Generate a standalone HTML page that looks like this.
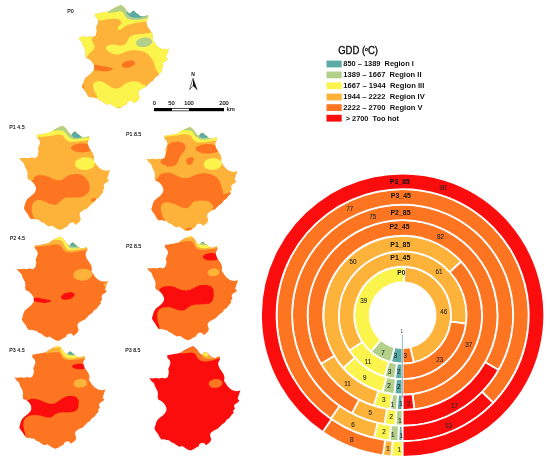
<!DOCTYPE html><html><head><meta charset="utf-8"><title>GDD</title><style>html,body{margin:0;padding:0;background:#fff}svg{display:block}text{font-family:"Liberation Sans", sans-serif}</style></head><body>
<svg width="550" height="463" viewBox="0 0 550 463">
<defs><path id="ol" d="M0.0 31.9 L2.8 32.4 L6.4 31.9 L10.0 32.4 L12.8 31.5 L15.5 32.4 L18.2 31.0 L19.1 28.2 L19.5 25.5 L18.8 22.8 L20.0 20.0 L21.0 17.3 L20.6 14.6 L19.1 12.8 L17.7 11.0 L18.2 8.8 L21.0 8.6 L24.6 7.9 L28.2 7.3 L31.9 6.4 L34.6 4.2 L37.3 2.8 L41.0 1.0 L43.7 0.0 L45.7 1.5 L47.5 3.3 L49.8 6.9 L52.1 8.9 L53.5 7.8 L54.4 6.5 L56.2 5.8 L57.4 6.9 L58.9 8.3 L60.3 9.2 L62.1 10.8 L64.4 11.7 L66.6 11.7 L68.5 10.8 L69.8 10.4 L70.5 11.9 L70.4 13.7 L69.1 15.5 L68.8 18.2 L70.0 21.9 L71.9 24.6 L73.7 27.3 L74.6 29.1 L75.1 31.9 L74.6 34.6 L76.4 37.3 L78.2 40.0 L81.0 42.8 L83.7 44.2 L87.3 45.0 L91.0 44.2 L90.0 47.1 L89.1 49.9 L88.2 52.6 L90.0 54.8 L88.2 56.2 L85.5 58.0 L84.6 59.9 L85.5 62.6 L83.7 64.4 L84.2 66.8 L81.9 69.0 L80.0 71.7 L77.3 73.5 L75.5 76.2 L72.8 78.0 L70.0 80.8 L68.2 82.6 L64.6 84.2 L61.9 86.0 L60.6 87.9 L61.0 90.6 L61.9 93.3 L60.6 96.0 L58.2 97.9 L56.4 99.1 L55.1 97.0 L52.8 96.6 L50.0 97.9 L49.1 100.2 L46.4 101.5 L43.7 103.3 L41.0 104.2 L38.2 103.3 L35.5 101.5 L32.8 99.7 L30.0 100.6 L27.3 99.1 L24.6 97.0 L21.9 96.0 L20.0 94.2 L17.3 93.7 L14.6 93.0 L11.9 93.3 L10.0 90.6 L8.6 87.9 L6.4 85.1 L5.0 82.4 L6.0 79.0 L6.8 76.2 L8.2 73.5 L11.0 71.1 L13.7 69.0 L15.5 67.1 L17.0 64.4 L17.0 61.7 L15.9 59.0 L13.7 56.2 L11.9 54.8 L9.1 53.5 L8.2 50.8 L8.6 48.0 L8.2 45.3 L6.8 42.6 L5.5 39.9 L4.6 37.1 L1.9 34.8Z"/></defs>
<rect width="550" height="463" fill="#fff"/>
<g>
<clipPath id="cp0"><use href="#ol" transform="scale(1.0100 0.9910)"/></clipPath>
<g transform="translate(77.0 5.0)">
<use href="#ol" transform="scale(1.0100 0.9910)" fill="#fdb23a"/>
<g clip-path="url(#cp0)">
<path d="M12.9 2.6 C19.7 -1.8 22.2 2.6 33.3 0.1 C44.3 -2.5 31.6 -6.7 46.0 -5.0 C60.4 -3.3 66.4 -1.8 76.5 5.2 C86.7 12.2 78.7 12.3 76.5 16.0 C74.4 19.7 74.0 16.1 70.2 16.4 C66.4 16.7 68.9 16.4 65.1 16.9 C61.3 17.4 62.5 17.1 58.7 17.9 C54.9 18.7 57.0 18.1 53.6 19.2 C50.2 20.2 51.3 19.6 48.5 21.1 C45.8 22.6 47.3 22.4 45.4 23.6 C43.5 24.9 44.3 24.9 42.8 24.9 C41.3 24.9 41.3 24.7 40.9 23.6 C40.5 22.6 40.5 23.4 41.5 21.7 C42.6 20.0 43.5 20.5 44.1 18.5 C44.7 16.6 44.9 17.5 43.5 16.0 C42.0 14.5 42.6 14.7 39.6 14.1 C36.7 13.5 38.4 13.9 34.5 14.1 C30.7 14.3 32.0 14.3 28.2 14.7 C24.4 15.2 26.1 15.6 23.1 15.4 C20.1 15.2 22.7 14.7 19.3 14.1 C15.9 13.5 15.0 17.3 12.9 13.5 C10.8 9.6 6.1 7.1 12.9 2.6Z" fill="#fbf44c"/>
<path d="M31.4 3.9 C33.3 1.4 32.8 2.6 37.1 0.1 C41.3 -2.5 39.4 -4.2 44.1 -3.7 C48.8 -3.3 40.3 -2.0 51.1 1.4 C61.9 4.8 68.1 2.7 76.5 6.5 C85.0 10.2 78.5 10.4 76.5 12.6 C74.6 14.7 73.8 12.3 70.8 12.8 C67.8 13.3 70.4 13.5 67.6 14.1 C64.9 14.7 66.4 14.5 62.5 14.7 C58.7 14.9 59.8 14.9 56.2 14.7 C52.6 14.5 54.3 15.2 51.7 14.1 C49.2 13.0 50.2 13.5 48.5 11.5 C46.8 9.6 48.3 10.1 46.6 8.4 C44.9 6.7 46.2 6.9 43.5 6.5 C40.7 6.0 41.8 6.7 38.4 7.1 C35.0 7.5 35.6 7.5 33.3 7.7 C30.9 7.9 32.0 9.0 31.4 7.7 C30.7 6.5 29.5 6.5 31.4 3.9Z" fill="#b3d08a"/>
<path d="M49.6 7.2 C49.4 5.7 49.6 7.6 51.3 5.7 C53.1 3.7 46.5 1.1 54.9 1.4 C63.3 1.6 71.4 3.4 76.5 6.5 C81.7 9.5 73.2 8.8 70.4 10.5 C67.7 12.2 70.1 11.0 68.3 11.5 C66.5 12.1 67.8 11.8 65.1 12.2 C62.3 12.6 63.4 12.8 60.0 12.8 C56.6 12.8 57.7 13.0 54.9 12.2 C52.2 11.3 53.5 11.9 51.7 10.3 C49.9 8.6 49.7 8.7 49.6 7.2Z" fill="#5aaaa6"/>
<path d="M-5.6 27.3 C0.3 19.8 5.4 28.5 12.2 31.3 C19.0 34.0 13.2 32.8 14.7 35.5 C16.2 38.1 15.9 36.7 16.7 39.1 C17.6 41.5 17.8 40.5 17.3 42.7 C16.8 45.0 17.2 43.7 15.3 45.8 C13.4 47.9 13.8 47.1 11.6 49.1 C9.5 51.1 14.7 50.3 8.9 51.8 C3.2 53.3 -0.8 61.8 -5.6 53.6 C-10.5 45.5 -11.6 34.7 -5.6 27.3Z" fill="#fbf44c"/>
<path d="M28.9 43.1 C28.9 41.1 29.2 41.5 31.6 40.4 C34.1 39.2 32.8 39.6 36.2 39.6 C39.5 39.6 38.3 40.2 41.6 40.4 C45.0 40.5 43.5 41.0 46.2 40.0 C48.9 39.0 48.0 39.4 49.8 37.3 C51.6 35.2 50.1 35.8 51.6 33.6 C53.2 31.5 51.9 32.3 54.4 30.9 C56.8 29.5 55.6 30.1 58.9 29.5 C62.2 28.8 60.4 29.5 64.4 29.1 C68.3 28.7 66.2 28.8 70.7 28.2 C75.3 27.6 67.1 28.2 78.0 27.3 C88.9 26.4 95.0 8.5 103.5 25.5 C111.9 42.4 109.5 62.7 103.5 78.2 C97.4 93.6 92.4 75.0 85.3 71.8 C78.1 68.7 83.8 70.8 82.0 68.7 C80.2 66.6 81.2 67.8 79.8 65.5 C78.5 63.2 78.9 64.2 78.0 61.8 C77.1 59.4 78.0 60.6 77.1 58.2 C76.2 55.8 76.8 57.0 75.3 54.5 C73.8 52.1 74.4 53.0 72.5 50.9 C70.7 48.8 72.2 49.7 69.8 48.2 C67.4 46.7 68.6 47.3 65.3 46.4 C61.9 45.5 63.5 45.8 59.8 45.5 C56.2 45.2 57.7 45.2 54.4 45.5 C51.0 45.8 52.8 45.5 49.8 46.4 C46.8 47.3 48.3 47.2 45.3 48.2 C42.2 49.2 43.8 49.3 40.7 49.5 C37.7 49.6 39.2 49.8 36.2 48.7 C33.2 47.7 34.1 48.2 31.6 46.4 C29.2 44.5 28.9 45.1 28.9 43.1Z" fill="#fbf44c"/>
<path d="M75.2 36.1 C75.3 36.7 75.1 37.4 74.8 38.0 C74.5 38.6 74.0 39.3 73.3 39.8 C72.6 40.3 71.7 40.8 70.8 41.2 C69.9 41.5 68.8 41.8 67.7 42.0 C66.7 42.1 65.6 42.1 64.6 42.0 C63.6 41.9 62.6 41.7 61.8 41.4 C61.0 41.1 60.3 40.6 59.9 40.1 C59.4 39.6 59.1 39.0 59.0 38.4 C58.9 37.8 59.0 37.1 59.4 36.5 C59.7 35.9 60.2 35.3 60.9 34.8 C61.6 34.2 62.5 33.7 63.4 33.4 C64.3 33.0 65.4 32.7 66.4 32.6 C67.5 32.4 68.6 32.4 69.6 32.5 C70.6 32.6 71.6 32.8 72.4 33.2 C73.1 33.5 73.9 33.9 74.3 34.4 C74.8 34.9 75.1 35.5 75.2 36.1Z" fill="#b3d08a"/>
<path d="M15.8 62.2 C15.9 60.5 15.8 60.6 18.0 60.0 C20.2 59.4 19.2 59.9 22.5 60.4 C25.9 60.8 24.4 60.7 28.0 61.5 C31.6 62.2 31.0 61.8 33.5 62.7 C35.9 63.6 35.6 63.2 35.3 64.2 C35.0 65.2 35.3 65.1 32.5 65.8 C29.8 66.5 30.7 66.4 27.1 66.4 C23.5 66.4 24.8 66.3 21.6 65.8 C18.5 65.3 19.6 66.1 17.6 64.9 C15.7 63.7 15.7 63.8 15.8 62.2Z" fill="#fd7421"/>
<path d="M58.0 57.5 C58.1 57.9 58.0 58.4 57.8 58.9 C57.6 59.3 57.2 59.9 56.7 60.3 C56.1 60.8 55.5 61.2 54.7 61.6 C54.0 61.9 53.1 62.2 52.3 62.4 C51.5 62.7 50.5 62.8 49.7 62.8 C48.9 62.8 48.1 62.8 47.4 62.6 C46.8 62.5 46.2 62.2 45.7 61.9 C45.3 61.6 45.0 61.1 44.9 60.7 C44.8 60.3 44.9 59.8 45.1 59.3 C45.3 58.8 45.7 58.3 46.2 57.9 C46.8 57.4 47.5 57.0 48.2 56.6 C48.9 56.3 49.8 55.9 50.6 55.7 C51.5 55.5 52.4 55.4 53.2 55.4 C54.0 55.3 54.8 55.4 55.5 55.6 C56.1 55.7 56.7 56.0 57.2 56.3 C57.6 56.6 57.9 57.0 58.0 57.5Z" fill="#fd7421"/>
<path d="M16.2 80.0 C16.4 77.3 16.2 78.5 18.0 77.3 C19.8 76.1 18.9 76.4 21.6 76.4 C24.4 76.4 23.2 76.1 26.2 77.3 C29.2 78.5 27.7 78.2 30.7 80.0 C33.8 81.8 32.2 81.5 35.3 82.7 C38.3 83.9 36.8 83.9 39.8 83.6 C42.8 83.3 41.6 83.3 44.4 81.8 C47.1 80.3 45.3 80.7 48.0 79.1 C50.7 77.5 49.2 77.8 52.5 76.9 C55.9 76.0 54.7 76.2 58.0 76.4 C61.3 76.5 60.0 76.1 62.5 77.3 C65.1 78.5 63.5 77.9 65.6 80.0 C67.8 82.1 66.0 73.0 68.9 83.6 C71.8 94.2 91.9 102.4 74.4 111.8 C56.8 121.2 33.5 116.5 16.2 111.8 C-1.1 107.1 20.8 103.4 22.5 97.6 C24.2 91.9 22.3 97.1 21.3 94.5 C20.2 92.0 20.8 93.0 19.5 90.0 C18.1 87.0 18.4 88.8 17.3 85.5 C16.2 82.1 15.9 82.7 16.2 80.0Z" fill="#fbf44c"/>
<path d="M6.5 82.4 C6.5 82.8 6.5 83.2 6.5 83.6 C6.4 84.0 6.3 84.4 6.2 84.7 C6.1 85.0 6.0 85.2 5.9 85.4 C5.7 85.5 5.6 85.6 5.5 85.6 C5.3 85.6 5.2 85.5 5.0 85.4 C4.9 85.2 4.8 85.0 4.7 84.7 C4.6 84.4 4.5 84.0 4.4 83.6 C4.4 83.2 4.4 82.8 4.4 82.4 C4.4 81.9 4.4 81.5 4.4 81.1 C4.5 80.7 4.6 80.3 4.7 80.0 C4.8 79.8 4.9 79.5 5.0 79.3 C5.2 79.2 5.3 79.1 5.5 79.1 C5.6 79.1 5.7 79.2 5.9 79.3 C6.0 79.5 6.1 79.8 6.2 80.0 C6.3 80.3 6.4 80.7 6.5 81.1 C6.5 81.5 6.5 81.9 6.5 82.4Z" fill="#fd7421"/>
<path d="M47.4 102.9 C47.5 103.1 47.3 103.2 47.1 103.4 C47.0 103.6 46.6 103.8 46.2 103.9 C45.9 104.0 45.4 104.2 44.9 104.3 C44.4 104.4 43.8 104.5 43.2 104.5 C42.6 104.6 42.0 104.6 41.5 104.6 C41.0 104.6 40.5 104.5 40.1 104.4 C39.7 104.4 39.3 104.2 39.1 104.1 C38.9 104.0 38.8 103.8 38.7 103.7 C38.7 103.5 38.8 103.3 39.0 103.1 C39.2 103.0 39.6 102.8 39.9 102.6 C40.3 102.5 40.8 102.4 41.3 102.2 C41.8 102.1 42.4 102.1 43.0 102.0 C43.5 102.0 44.1 101.9 44.7 102.0 C45.2 102.0 45.7 102.0 46.1 102.1 C46.5 102.2 46.8 102.3 47.1 102.4 C47.3 102.6 47.4 102.7 47.4 102.9Z" fill="#fdb23a"/>
</g></g>
<rect x="70.0" y="30.0" width="9.1" height="16.0" fill="#fff"/>
<text x="67.2" y="12.5" font-size="5.3" fill="#111" stroke="#111" stroke-width="0.12">P0</text>
<clipPath id="cp1"><use href="#ol" transform="scale(1.0000 1.0000)"/></clipPath>
<g transform="translate(19.0 125.8)">
<use href="#ol" transform="scale(1.0000 1.0000)" fill="#fdb23a"/>
<g clip-path="url(#cp1)">
<path d="M15.0 -8.0 L80.0 -8.0 L80.0 13.6 L74.0 13.6 C72.2 13.9 72.5 13.8 68.5 14.4 C64.5 15.0 66.4 14.8 62.1 15.3 C57.8 15.8 59.3 15.8 55.7 16.0 C52.1 16.2 53.8 16.4 51.2 16.0 C48.6 15.6 49.8 15.9 48.0 14.7 C46.2 13.5 47.2 14.1 45.7 12.4 C44.2 10.7 45.6 10.9 43.5 9.7 C41.4 8.5 42.6 8.9 39.4 8.9 C36.2 8.9 37.5 9.2 33.9 9.7 C30.3 10.2 32.1 10.0 28.5 10.4 C24.9 10.8 27.5 10.6 23.0 11.0 C18.5 11.4 17.7 11.4 15.0 11.6Z" fill="#fbf44c"/>
<path d="M32.3 -8.0 L80.0 -8.0 L80.0 11.2 L74.0 11.2 C72.2 11.4 72.5 11.4 68.5 11.9 C64.5 12.4 66.1 12.3 62.1 12.8 C58.1 13.3 59.6 13.5 56.6 13.5 C53.6 13.5 55.1 13.6 53.0 12.9 C50.9 12.2 51.9 12.6 50.3 11.4 C48.7 10.2 49.5 10.9 48.2 9.4 C46.9 7.9 47.7 8.5 46.3 7.0 C44.9 5.5 45.9 5.9 43.9 5.0 C41.9 4.1 42.7 4.5 40.3 4.4 C37.9 4.3 39.0 4.3 36.6 4.8 C34.2 5.3 34.4 4.9 33.0 5.8 C31.6 6.7 32.5 7.0 32.3 7.6Z" fill="#b3d08a"/>
<path d="M53.0 9.2 C52.9 8.3 53.5 6.9 54.0 6.0 C54.5 5.1 55.5 3.8 56.2 4.0 C56.9 4.2 57.7 6.6 58.4 7.4 C59.1 8.2 59.8 8.4 60.5 9.0 C61.2 9.6 62.6 10.3 62.6 10.8 C62.6 11.3 61.6 11.7 60.7 11.9 C59.9 12.1 58.5 12.3 57.5 12.2 C56.5 12.1 55.1 12.0 54.4 11.5 C53.6 11.0 53.1 10.1 53.0 9.2Z" fill="#5aaaa6"/>
<path d="M74.4 22.1 C74.4 22.7 74.1 23.3 73.5 23.8 C73.0 24.4 72.1 24.9 71.1 25.3 C70.1 25.7 68.8 26.0 67.5 26.3 C66.2 26.5 64.6 26.6 63.2 26.6 C61.8 26.6 60.2 26.5 58.9 26.3 C57.6 26.0 56.3 25.7 55.3 25.3 C54.3 24.9 53.4 24.4 52.9 23.8 C52.3 23.3 52.0 22.7 52.0 22.1 C52.0 21.5 52.3 20.9 52.9 20.4 C53.4 19.8 54.3 19.3 55.3 18.9 C56.3 18.5 57.6 18.2 58.9 17.9 C60.2 17.7 61.8 17.6 63.2 17.6 C64.6 17.6 66.2 17.7 67.5 17.9 C68.8 18.2 70.1 18.5 71.1 18.9 C72.1 19.3 73.0 19.8 73.5 20.4 C74.1 20.9 74.4 21.5 74.4 22.1Z" fill="#fd7421"/>
<path d="M76.2 37.3 C76.2 38.1 76.0 39.0 75.5 39.8 C75.1 40.6 74.3 41.3 73.4 42.0 C72.5 42.6 71.4 43.1 70.2 43.5 C69.0 43.9 67.6 44.1 66.3 44.2 C65.0 44.3 63.6 44.2 62.4 43.9 C61.2 43.7 60.0 43.2 59.0 42.7 C58.1 42.2 57.3 41.5 56.7 40.8 C56.2 40.0 55.9 39.2 55.8 38.4 C55.8 37.6 56.0 36.7 56.5 35.9 C56.9 35.1 57.7 34.3 58.6 33.7 C59.5 33.1 60.6 32.5 61.8 32.2 C63.0 31.8 64.4 31.5 65.7 31.5 C67.0 31.4 68.4 31.5 69.6 31.8 C70.8 32.0 72.0 32.4 73.0 33.0 C73.9 33.5 74.7 34.2 75.3 34.9 C75.8 35.6 76.1 36.5 76.2 37.3Z" fill="#fbf44c"/>
<path d="M13.3 54.4 C16.3 52.9 13.3 52.4 16.0 50.7 C18.7 49.1 17.2 49.5 21.5 49.5 C25.7 49.5 24.2 49.4 28.7 50.7 C33.3 52.1 31.2 52.3 35.1 53.5 C39.0 54.7 37.2 54.7 40.5 54.4 C43.9 54.1 42.1 54.1 45.1 52.6 C48.1 51.0 46.3 51.2 49.6 49.8 C53.0 48.4 51.2 48.7 55.1 48.4 C59.0 48.1 57.8 47.8 61.5 48.9 C65.1 50.0 63.6 49.5 66.0 51.7 C68.4 53.8 67.2 52.6 68.7 55.3 C70.2 58.0 70.1 56.8 70.5 59.8 C71.0 62.9 71.1 61.7 70.2 64.4 C69.3 67.1 69.8 65.9 67.8 68.0 C65.8 70.1 67.5 69.5 64.2 70.7 C60.8 72.0 62.4 71.4 57.8 71.7 C53.3 72.0 54.8 71.4 50.5 71.7 C46.3 72.0 48.1 71.4 45.1 72.6 C42.1 73.8 43.6 73.5 41.5 75.3 C39.3 77.1 40.8 76.8 38.7 78.0 C36.6 79.2 38.1 79.1 35.1 78.9 C32.1 78.7 33.3 78.7 29.6 77.5 C26.0 76.3 27.8 76.3 24.2 75.3 C20.5 74.3 21.8 74.1 18.7 74.4 C15.7 74.7 16.9 74.4 15.1 76.2 C13.3 78.0 14.1 77.1 13.3 79.8 C12.5 82.6 12.5 81.0 12.7 84.4 C12.9 87.7 13.2 86.5 13.8 89.8 C14.5 93.2 17.0 91.4 14.7 94.4 C12.4 97.4 12.5 102.9 6.9 98.9 C1.3 95.0 -0.4 94.1 -2.2 82.6 C-4.0 71.0 -1.6 73.5 1.5 64.4 C4.5 55.3 3.0 58.6 6.9 55.3 C10.8 52.0 10.2 55.9 13.3 54.4Z" fill="#fd7421"/>
<path d="M76.9 73.0 C77.0 73.1 77.0 73.4 76.9 73.6 C76.9 73.8 76.8 74.0 76.6 74.2 C76.4 74.4 76.2 74.6 75.9 74.8 C75.7 74.9 75.3 75.1 75.0 75.2 C74.7 75.3 74.4 75.4 74.1 75.4 C73.8 75.5 73.5 75.5 73.2 75.4 C72.9 75.4 72.7 75.3 72.5 75.2 C72.4 75.0 72.2 74.9 72.2 74.7 C72.1 74.5 72.1 74.3 72.1 74.1 C72.2 73.9 72.3 73.7 72.5 73.5 C72.7 73.3 72.9 73.1 73.2 72.9 C73.4 72.7 73.7 72.6 74.0 72.5 C74.4 72.4 74.7 72.3 75.0 72.2 C75.3 72.2 75.6 72.2 75.9 72.3 C76.1 72.3 76.4 72.4 76.6 72.5 C76.7 72.6 76.9 72.8 76.9 73.0Z" fill="#fd7421"/>
</g></g>
<text x="9.3" y="129.0" font-size="5.3" fill="#111" stroke="#111" stroke-width="0.12">P1 4.5</text>
<clipPath id="cp2"><use href="#ol" transform="scale(1.0000 1.0000)"/></clipPath>
<g transform="translate(146.4 126.9)">
<use href="#ol" transform="scale(1.0000 1.0000)" fill="#fdb23a"/>
<g clip-path="url(#cp2)">
<path d="M15.0 -8.0 L80.0 -8.0 L80.0 13.0 L75.0 13.0 C73.3 13.2 73.8 13.1 70.0 13.6 C66.2 14.1 67.9 13.9 63.6 14.5 C59.3 15.1 61.1 15.1 57.2 15.4 C53.3 15.7 54.8 15.9 51.8 15.4 C48.8 14.9 50.1 15.2 48.1 13.8 C46.1 12.4 47.4 13.0 45.9 11.3 C44.4 9.6 45.7 9.9 43.6 8.6 C41.5 7.3 42.5 7.8 39.5 7.5 C36.5 7.2 38.0 7.4 34.5 7.8 C31.0 8.2 32.7 8.1 29.1 8.6 C25.5 9.1 28.3 8.8 23.6 9.3 C18.9 9.8 17.9 9.8 15.0 10.0Z" fill="#fbf44c"/>
<path d="M37.4 -8.0 L80.0 -8.0 L80.0 9.8 L75.0 9.8 C73.3 10.0 72.6 9.9 70.0 10.4 C67.4 10.9 69.9 10.6 67.2 11.3 C64.5 12.0 65.4 12.0 61.8 12.4 C58.2 12.8 59.3 12.8 56.3 12.6 C53.3 12.4 54.8 12.6 52.7 11.7 C50.6 10.8 51.6 11.2 50.0 9.9 C48.4 8.6 49.0 9.3 47.9 7.9 C46.8 6.5 47.6 6.9 46.6 5.6 C45.6 4.3 46.6 4.7 45.0 4.0 C43.4 3.3 44.0 3.8 41.8 3.6 C39.6 3.4 39.9 3.1 38.4 3.4 C36.9 3.7 37.7 4.1 37.4 4.4Z" fill="#b3d08a"/>
<path d="M52.7 8.6 C52.8 7.9 53.4 6.3 53.9 5.5 C54.4 4.7 55.2 3.4 55.9 3.6 C56.6 3.9 57.3 6.2 58.0 7.0 C58.7 7.8 59.6 7.9 60.2 8.4 C60.8 8.9 62.0 9.8 61.8 10.2 C61.6 10.6 60.2 10.9 59.1 11.0 C58.0 11.1 56.4 11.0 55.4 10.8 C54.4 10.6 53.8 10.3 53.4 9.9 C53.0 9.5 52.6 9.3 52.7 8.6Z" fill="#5aaaa6"/>
<path d="M23.6 16.7 C26.3 15.2 25.4 15.4 29.1 14.9 C32.7 14.4 31.5 14.4 34.5 15.3 C37.5 16.2 36.6 15.6 38.1 17.6 C39.7 19.6 39.4 18.9 39.1 21.3 C38.8 23.7 38.8 22.5 37.2 24.9 C35.7 27.3 36.0 26.1 34.5 28.6 C33.0 31.0 33.9 29.8 32.7 32.2 C31.5 34.6 32.4 33.7 30.9 35.8 C29.4 37.9 30.6 37.3 28.1 38.6 C25.7 39.8 26.6 39.5 23.6 39.5 C20.6 39.5 21.8 39.5 19.1 38.6 C16.3 37.6 16.9 38.3 15.4 36.7 C13.9 35.2 14.2 36.1 14.5 34.0 C14.8 31.9 14.8 32.8 16.3 30.4 C17.8 27.9 17.5 29.2 19.1 26.7 C20.6 24.3 20.3 25.5 20.9 23.1 C21.5 20.7 20.0 21.6 20.9 19.5 C21.8 17.3 20.9 18.3 23.6 16.7Z" fill="#fd7421"/>
<path d="M73.7 22.0 C73.7 22.6 73.4 23.3 72.8 23.8 C72.2 24.4 71.2 25.0 70.1 25.4 C69.0 25.8 67.6 26.2 66.2 26.4 C64.7 26.7 63.1 26.8 61.5 26.8 C59.9 26.8 58.3 26.7 56.8 26.4 C55.4 26.2 54.0 25.8 52.9 25.4 C51.8 25.0 50.8 24.4 50.2 23.8 C49.6 23.3 49.3 22.6 49.3 22.0 C49.3 21.4 49.6 20.7 50.2 20.2 C50.8 19.6 51.8 19.0 52.9 18.6 C54.0 18.2 55.4 17.8 56.8 17.6 C58.3 17.3 59.9 17.2 61.5 17.2 C63.1 17.2 64.7 17.3 66.2 17.6 C67.6 17.8 69.0 18.2 70.1 18.6 C71.2 19.0 72.2 19.6 72.8 20.2 C73.4 20.7 73.7 21.4 73.7 22.0Z" fill="#fd7421"/>
<path d="M40.0 34.9 C39.8 32.9 39.7 33.2 41.2 31.6 C42.8 30.1 42.5 30.5 44.5 30.4 C46.5 30.3 46.5 29.9 47.2 31.3 C48.0 32.7 47.4 32.6 46.7 34.6 C46.0 36.6 46.7 36.3 45.1 37.3 C43.4 38.3 43.5 38.4 41.8 37.6 C40.1 36.9 40.1 36.9 40.0 34.9Z" fill="#fd7421"/>
<path d="M75.4 36.6 C75.4 37.4 75.2 38.2 74.8 38.9 C74.4 39.6 73.8 40.3 73.0 40.9 C72.2 41.4 71.1 41.9 70.1 42.3 C69.0 42.6 67.8 42.8 66.6 42.9 C65.5 43.0 64.2 42.9 63.1 42.7 C62.0 42.4 61.0 42.0 60.1 41.5 C59.3 41.1 58.5 40.4 58.1 39.8 C57.6 39.1 57.3 38.3 57.2 37.6 C57.2 36.8 57.4 36.0 57.8 35.3 C58.2 34.6 58.9 33.9 59.7 33.3 C60.5 32.8 61.5 32.3 62.6 31.9 C63.6 31.6 64.9 31.4 66.0 31.3 C67.2 31.2 68.4 31.3 69.5 31.5 C70.6 31.8 71.7 32.2 72.5 32.7 C73.4 33.1 74.1 33.8 74.6 34.4 C75.1 35.1 75.4 35.9 75.4 36.6Z" fill="#fbf44c"/>
<path d="M10.0 52.4 C14.8 48.4 10.6 49.9 13.6 47.8 C16.6 45.7 15.1 46.4 19.1 46.0 C23.0 45.6 21.5 45.5 25.4 46.6 C29.4 47.6 27.2 47.6 30.9 49.1 C34.5 50.6 32.4 50.4 36.3 50.9 C40.3 51.4 38.8 51.4 42.7 50.6 C46.6 49.7 44.2 49.7 48.1 48.4 C52.1 47.0 50.3 47.2 54.5 46.6 C58.8 45.9 56.6 45.8 60.9 46.6 C65.1 47.3 63.6 46.8 67.2 48.7 C70.9 50.7 69.4 49.3 71.8 52.4 C74.2 55.4 73.0 54.2 74.5 57.8 C76.0 61.5 75.1 60.3 76.3 63.3 C77.5 66.3 74.2 66.3 78.1 66.9 C82.1 67.5 84.8 62.7 88.1 65.1 C91.5 67.5 94.2 68.4 88.1 74.2 C82.1 79.9 77.2 80.9 70.0 82.4 C62.7 83.9 68.8 81.2 66.3 78.7 C63.9 76.3 65.7 76.7 62.7 75.1 C59.7 73.5 60.9 74.3 57.2 73.8 C53.6 73.4 55.1 73.4 51.8 73.8 C48.4 74.3 49.7 73.8 47.2 75.1 C44.8 76.4 46.3 76.0 44.5 77.8 C42.7 79.6 43.9 79.5 41.8 80.6 C39.7 81.6 40.9 81.4 38.1 81.1 C35.4 80.8 36.6 80.9 33.6 79.6 C30.6 78.4 32.1 78.7 29.1 77.5 C26.0 76.3 27.5 76.6 24.5 76.0 C21.5 75.4 22.7 75.3 20.0 75.6 C17.2 75.9 18.1 75.3 16.3 76.9 C14.5 78.6 14.9 77.8 14.5 80.6 C14.1 83.3 14.4 82.1 15.1 85.1 C15.7 88.1 15.6 86.0 16.3 89.6 C17.1 93.3 21.2 92.7 17.2 96.0 C13.3 99.3 11.8 104.5 4.5 99.6 C-2.8 94.8 -2.8 94.8 -4.6 81.5 C-6.4 68.1 -5.8 69.3 -0.9 59.6 C3.9 49.9 5.1 56.3 10.0 52.4Z" fill="#fd7421"/>
<path d="M46.7 101.8 C46.7 102.0 46.6 102.2 46.4 102.4 C46.2 102.5 45.9 102.7 45.6 102.8 C45.2 103.0 44.8 103.1 44.3 103.2 C43.9 103.3 43.3 103.4 42.8 103.5 C42.3 103.5 41.7 103.5 41.3 103.5 C40.8 103.5 40.3 103.4 40.0 103.3 C39.6 103.3 39.3 103.1 39.1 103.0 C38.8 102.9 38.7 102.7 38.7 102.5 C38.7 102.4 38.8 102.2 39.0 102.0 C39.1 101.9 39.4 101.7 39.8 101.5 C40.1 101.4 40.6 101.3 41.1 101.2 C41.5 101.0 42.1 101.0 42.6 100.9 C43.1 100.9 43.6 100.9 44.1 100.9 C44.6 100.9 45.1 101.0 45.4 101.0 C45.8 101.1 46.1 101.3 46.3 101.4 C46.5 101.5 46.7 101.7 46.7 101.8Z" fill="#fd7421"/>
</g></g>
<text x="126.0" y="135.6" font-size="5.3" fill="#111" stroke="#111" stroke-width="0.12">P1 8.5</text>
<clipPath id="cp3"><use href="#ol" transform="scale(1.0000 1.0000)"/></clipPath>
<g transform="translate(16.8 236.8)">
<use href="#ol" transform="scale(1.0000 1.0000)" fill="#fd7421"/>
<g clip-path="url(#cp3)">
<path d="M15.0 -8.0 L80.0 -8.0 L80.0 12.4 L75.0 12.4 C72.9 12.7 73.2 12.6 68.7 13.4 C64.2 14.2 66.0 13.9 61.4 14.7 C56.8 15.5 58.6 15.5 55.0 15.7 C51.4 15.9 53.1 16.0 50.5 15.4 C47.9 14.8 49.0 15.2 47.3 13.8 C45.6 12.4 47.0 12.9 45.5 11.1 C44.0 9.3 45.0 9.5 42.7 8.4 C40.4 7.3 41.6 7.7 38.7 7.7 C35.8 7.7 37.4 8.0 34.1 8.4 C30.8 8.8 32.3 8.6 28.7 9.0 C25.1 9.4 27.8 9.2 23.2 9.7 C18.6 10.2 17.7 10.2 15.0 10.4Z" fill="#fdb23a"/>
<path d="M35.6 -8.0 L80.0 -8.0 L80.0 10.2 L75.0 10.2 C72.6 10.6 72.2 10.6 67.7 11.4 C63.2 12.2 65.6 11.8 61.4 12.5 C57.2 13.2 58.3 13.3 55.0 13.4 C51.7 13.5 53.4 13.8 51.4 12.9 C49.4 12.0 50.6 12.5 49.1 10.7 C47.6 8.9 48.4 9.6 47.0 7.5 C45.6 5.4 46.9 5.7 45.0 4.3 C43.1 2.9 44.1 3.5 41.4 3.2 C38.7 2.9 38.7 2.8 36.8 3.4 C34.9 4.0 36.0 4.5 35.6 5.0Z" fill="#fbf44c"/>
<path d="M51.6 9.4 C51.5 8.0 52.3 4.1 53.4 3.0 C54.5 1.9 56.7 2.2 58.0 3.0 C59.3 3.8 60.2 6.7 61.0 8.0 C61.8 9.3 62.9 10.0 63.0 10.6 C63.1 11.2 62.3 11.2 61.4 11.4 C60.5 11.6 58.9 11.7 57.7 11.7 C56.5 11.7 55.1 12.0 54.1 11.6 C53.1 11.2 51.7 10.8 51.6 9.4Z" fill="#b3d08a"/>
<path d="M53.5 8.6 C53.3 7.6 53.8 4.8 54.4 4.0 C55.0 3.2 56.5 3.4 57.4 4.0 C58.3 4.6 59.0 6.7 59.6 7.6 C60.2 8.5 61.0 8.9 60.8 9.3 C60.6 9.7 59.4 9.8 58.5 9.9 C57.6 10.0 56.3 9.9 55.5 9.7 C54.7 9.5 53.7 9.5 53.5 8.6Z" fill="#5aaaa6"/>
<path d="M75.4 37.4 C75.4 38.2 75.2 39.0 74.8 39.8 C74.3 40.5 73.6 41.2 72.8 41.8 C72.0 42.4 70.9 42.9 69.8 43.3 C68.7 43.6 67.4 43.9 66.2 43.9 C65.0 44.0 63.7 43.9 62.6 43.7 C61.5 43.4 60.4 43.0 59.5 42.5 C58.6 42.0 57.8 41.4 57.3 40.7 C56.8 40.0 56.5 39.2 56.5 38.4 C56.4 37.7 56.7 36.8 57.1 36.1 C57.5 35.4 58.2 34.6 59.0 34.0 C59.9 33.5 60.9 32.9 62.0 32.6 C63.1 32.2 64.4 32.0 65.6 31.9 C66.8 31.9 68.1 32.0 69.3 32.2 C70.4 32.4 71.5 32.8 72.4 33.3 C73.3 33.8 74.0 34.5 74.5 35.2 C75.0 35.9 75.3 36.7 75.4 37.4Z" fill="#fdb23a"/>
<path d="M87.7 49.7 C85.9 47.0 87.1 47.6 89.6 45.2 C92.0 42.8 93.2 39.7 95.0 42.5 C96.8 45.2 97.4 51.0 95.0 53.4 C92.6 55.8 89.6 52.5 87.7 49.7Z" fill="#fdb23a"/>
<path d="M16.1 62.8 C16.1 61.5 16.6 61.4 19.6 61.0 C22.5 60.6 21.4 61.0 25.0 61.6 C28.7 62.2 27.4 61.9 30.5 62.8 C33.5 63.7 34.0 63.3 34.1 64.3 C34.2 65.3 33.9 65.2 30.8 65.7 C27.8 66.3 28.8 66.2 25.0 65.9 C21.3 65.7 22.5 66.0 19.6 65.0 C16.6 64.0 16.1 64.2 16.1 62.8Z" fill="#fb0d0d"/>
<path d="M57.7 57.4 C57.8 57.8 57.7 58.3 57.5 58.8 C57.3 59.3 56.9 59.8 56.4 60.3 C55.8 60.8 55.1 61.2 54.4 61.6 C53.7 62.0 52.8 62.3 51.9 62.5 C51.1 62.8 50.1 62.9 49.3 63.0 C48.5 63.0 47.6 63.0 46.9 62.8 C46.2 62.7 45.6 62.4 45.2 62.1 C44.8 61.8 44.5 61.4 44.3 61.0 C44.2 60.6 44.3 60.1 44.5 59.6 C44.7 59.1 45.1 58.6 45.7 58.1 C46.2 57.6 46.9 57.2 47.6 56.8 C48.4 56.4 49.3 56.1 50.1 55.9 C51.0 55.6 51.9 55.5 52.7 55.4 C53.6 55.4 54.4 55.4 55.1 55.6 C55.8 55.7 56.4 56.0 56.8 56.3 C57.3 56.6 57.6 57.0 57.7 57.4Z" fill="#fb0d0d"/>
</g></g>
<text x="9.7" y="239.8" font-size="5.3" fill="#111" stroke="#111" stroke-width="0.12">P2 4.5</text>
<clipPath id="cp4"><use href="#ol" transform="scale(1.0000 1.0000)"/></clipPath>
<g transform="translate(147.0 236.0)">
<use href="#ol" transform="scale(1.0000 1.0000)" fill="#fd7421"/>
<g clip-path="url(#cp4)">
<path d="M31.5 -8.0 L80.0 -8.0 L80.0 11.4 L75.0 11.4 C73.2 11.7 73.4 11.6 69.5 12.2 C65.6 12.8 67.4 12.7 63.2 13.3 C59.0 13.9 60.4 13.9 56.8 14.0 C53.2 14.1 54.9 14.3 52.3 13.5 C49.7 12.7 50.8 13.4 49.1 11.7 C47.4 10.0 48.7 10.5 47.3 8.5 C45.9 6.5 47.0 6.9 45.0 5.8 C43.0 4.7 44.1 5.2 41.4 5.1 C38.7 5.0 39.8 5.1 36.8 5.6 C33.8 6.1 34.1 5.7 32.3 6.7 C30.5 7.7 31.8 8.0 31.5 8.6Z" fill="#fdb23a"/>
<path d="M45.6 -0.2 C45.6 0.0 45.5 0.2 45.4 0.4 C45.3 0.6 45.1 0.7 44.8 0.9 C44.5 1.1 44.2 1.2 43.8 1.4 C43.5 1.5 43.0 1.6 42.6 1.7 C42.2 1.8 41.8 1.8 41.4 1.8 C41.0 1.8 40.6 1.8 40.3 1.7 C40.0 1.6 39.8 1.5 39.6 1.4 C39.4 1.3 39.3 1.1 39.2 1.0 C39.2 0.8 39.3 0.6 39.4 0.4 C39.5 0.2 39.7 0.1 40.0 -0.1 C40.3 -0.3 40.6 -0.4 41.0 -0.6 C41.3 -0.7 41.8 -0.8 42.2 -0.9 C42.6 -1.0 43.0 -1.0 43.4 -1.0 C43.8 -1.0 44.2 -1.0 44.5 -0.9 C44.8 -0.8 45.0 -0.7 45.2 -0.6 C45.4 -0.5 45.5 -0.3 45.6 -0.2Z" fill="#fbf44c"/>
<path d="M48.3 -8.0 L80.0 -8.0 L80.0 9.8 L75.0 9.8 C73.2 10.0 72.2 10.1 69.5 10.5 C66.8 10.9 69.5 10.7 66.8 11.1 C64.1 11.5 65.0 11.4 61.4 11.7 C57.8 12.0 58.9 12.1 55.9 12.0 C52.9 11.9 54.3 12.1 52.3 11.3 C50.3 10.5 51.1 10.9 50.0 9.5 C48.9 8.1 49.6 8.8 49.0 7.0 C48.4 5.2 48.5 5.0 48.3 4.0Z" fill="#fbf44c"/>
<path d="M52.3 8.0 C52.1 7.0 52.7 3.8 53.6 3.0 C54.5 2.2 56.4 2.3 57.5 3.0 C58.6 3.7 59.4 6.4 60.0 7.4 C60.6 8.4 61.3 8.7 61.0 9.0 C60.7 9.3 59.1 9.3 58.0 9.3 C56.9 9.3 55.5 9.2 54.5 9.0 C53.5 8.8 52.4 9.0 52.3 8.0Z" fill="#b3d08a"/>
<path d="M53.6 6.8 C53.5 6.2 54.1 4.0 54.6 3.6 C55.1 3.2 55.9 3.9 56.4 4.4 C56.9 4.9 57.5 6.1 57.4 6.6 C57.2 7.1 56.1 7.4 55.5 7.4 C54.9 7.4 53.8 7.4 53.6 6.8Z" fill="#5aaaa6"/>
<path d="M73.1 20.8 C73.1 21.3 72.9 21.8 72.4 22.2 C72.0 22.7 71.4 23.1 70.6 23.4 C69.8 23.8 68.8 24.0 67.8 24.2 C66.8 24.4 65.6 24.5 64.5 24.5 C63.4 24.5 62.2 24.4 61.2 24.2 C60.2 24.0 59.2 23.8 58.4 23.4 C57.6 23.1 57.0 22.7 56.6 22.2 C56.1 21.8 55.9 21.3 55.9 20.8 C55.9 20.3 56.1 19.8 56.6 19.4 C57.0 18.9 57.6 18.5 58.4 18.2 C59.2 17.8 60.2 17.6 61.2 17.4 C62.2 17.2 63.4 17.1 64.5 17.1 C65.6 17.1 66.8 17.2 67.8 17.4 C68.8 17.6 69.8 17.8 70.6 18.2 C71.4 18.5 72.0 18.9 72.4 19.4 C72.9 19.8 73.1 20.3 73.1 20.8Z" fill="#fb0d0d"/>
<path d="M72.6 35.8 C72.7 36.3 72.5 36.9 72.3 37.4 C72.0 37.9 71.6 38.4 71.1 38.8 C70.6 39.2 69.9 39.6 69.2 39.8 C68.6 40.1 67.7 40.3 67.0 40.3 C66.2 40.4 65.4 40.4 64.7 40.2 C63.9 40.1 63.2 39.9 62.7 39.6 C62.1 39.2 61.6 38.8 61.2 38.4 C60.9 37.9 60.7 37.4 60.7 36.9 C60.6 36.4 60.7 35.8 61.0 35.3 C61.2 34.8 61.7 34.3 62.2 33.9 C62.7 33.5 63.3 33.1 64.0 32.9 C64.7 32.6 65.5 32.4 66.3 32.4 C67.1 32.3 67.9 32.3 68.6 32.5 C69.3 32.6 70.0 32.9 70.6 33.2 C71.2 33.5 71.7 33.9 72.0 34.4 C72.4 34.8 72.6 35.3 72.6 35.8Z" fill="#fdb23a"/>
<path d="M11.2 54.9 C14.2 53.7 11.8 53.2 14.8 51.6 C17.8 50.1 16.3 50.5 20.3 50.2 C24.2 49.9 22.7 49.8 26.6 50.7 C30.6 51.7 28.2 51.9 32.1 53.1 C36.0 54.3 34.2 54.4 38.5 54.4 C42.7 54.4 40.9 54.5 44.8 53.1 C48.8 51.7 46.6 51.6 50.3 50.2 C53.9 48.8 52.1 49.2 55.7 48.9 C59.4 48.7 58.0 48.4 61.2 49.5 C64.4 50.5 63.5 49.5 65.4 52.0 C67.2 54.5 66.4 53.6 66.6 57.1 C66.9 60.6 67.0 59.5 66.1 62.5 C65.2 65.6 66.2 64.4 63.9 66.2 C61.7 68.0 63.0 67.3 59.4 68.0 C55.7 68.7 57.2 68.1 53.0 68.4 C48.8 68.7 50.3 68.1 46.6 68.9 C43.0 69.7 44.8 69.2 42.1 70.7 C39.4 72.2 40.9 72.2 38.5 73.5 C36.0 74.7 37.8 74.4 34.8 74.4 C31.8 74.4 33.0 74.4 29.4 73.5 C25.7 72.5 27.5 72.4 23.9 71.6 C20.3 70.9 21.8 71.0 18.5 71.3 C15.1 71.6 16.3 71.2 13.9 72.5 C11.5 73.9 12.4 72.8 11.2 75.3 C10.0 77.7 10.4 76.5 10.3 79.8 C10.2 83.2 10.2 81.3 10.8 85.3 C11.4 89.2 12.6 87.7 12.1 91.6 C11.6 95.6 14.5 99.5 9.4 97.1 C4.2 94.7 0.3 94.7 -3.4 84.4 C-7.0 74.1 -4.6 75.9 -1.5 66.2 C1.5 56.5 1.5 59.0 5.7 55.3 C10.0 51.5 8.2 56.1 11.2 54.9Z" fill="#fb0d0d"/>
</g></g>
<text x="126.0" y="247.6" font-size="5.3" fill="#111" stroke="#111" stroke-width="0.12">P2 8.5</text>
<clipPath id="cp5"><use href="#ol" transform="scale(1.0000 0.9880)"/></clipPath>
<g transform="translate(14.4 345.8)">
<use href="#ol" transform="scale(1.0000 0.9880)" fill="#fd7421"/>
<g clip-path="url(#cp5)">
<path d="M31.2 -8.0 L80.0 -8.0 L80.0 12.0 L75.0 12.0 C72.8 12.3 72.6 12.3 68.3 12.9 C64.0 13.5 65.9 13.3 62.0 13.8 C58.1 14.3 59.8 14.3 56.5 14.3 C53.2 14.3 54.6 14.5 52.0 13.8 C49.4 13.1 50.5 13.6 48.8 12.1 C47.1 10.6 48.3 11.1 47.0 9.4 C45.7 7.7 46.8 8.0 44.8 7.0 C42.8 6.0 43.9 6.5 41.1 6.4 C38.3 6.3 39.5 6.3 36.5 6.8 C33.5 7.3 33.8 7.1 32.0 8.0 C30.2 8.9 31.5 9.1 31.2 9.6Z" fill="#fdb23a"/>
<path d="M45.9 0.0 C46.0 0.2 45.9 0.4 45.8 0.6 C45.7 0.8 45.4 1.0 45.1 1.2 C44.9 1.3 44.5 1.5 44.1 1.6 C43.7 1.8 43.3 1.9 42.8 2.0 C42.4 2.1 41.9 2.1 41.5 2.1 C41.1 2.1 40.7 2.1 40.4 2.0 C40.1 1.9 39.8 1.8 39.6 1.7 C39.4 1.5 39.3 1.4 39.3 1.2 C39.2 1.0 39.3 0.8 39.4 0.6 C39.5 0.4 39.8 0.2 40.1 0.0 C40.3 -0.1 40.7 -0.3 41.1 -0.4 C41.5 -0.6 41.9 -0.7 42.4 -0.8 C42.8 -0.9 43.3 -0.9 43.7 -0.9 C44.1 -0.9 44.5 -0.9 44.8 -0.8 C45.1 -0.7 45.4 -0.6 45.6 -0.5 C45.8 -0.3 45.9 -0.2 45.9 0.0Z" fill="#fbf44c"/>
<path d="M45.9 -8.0 L80.0 -8.0 L80.0 10.4 L75.0 10.4 C72.5 10.7 71.7 10.8 67.4 11.3 C63.1 11.8 65.6 11.5 62.0 11.9 C58.4 12.3 59.5 12.4 56.5 12.4 C53.5 12.4 55.0 12.5 52.9 11.9 C50.8 11.3 51.8 12.0 50.1 10.6 C48.4 9.2 49.2 9.6 47.9 7.8 C46.6 6.0 47.0 6.7 46.3 5.1 C45.6 3.5 46.0 3.7 45.9 3.0Z" fill="#fbf44c"/>
<path d="M52.0 7.6 C51.8 6.6 52.2 3.8 53.0 3.0 C53.8 2.2 55.7 2.2 57.0 3.0 C58.3 3.8 60.0 6.4 61.0 7.5 C62.0 8.6 63.7 9.0 63.2 9.4 C62.7 9.8 59.5 9.8 58.0 9.8 C56.5 9.8 55.0 9.6 54.0 9.2 C53.0 8.8 52.2 8.6 52.0 7.6Z" fill="#b3d08a"/>
<path d="M53.4 7.2 C53.4 6.4 53.9 4.0 54.5 3.5 C55.1 3.0 56.2 3.6 57.0 4.2 C57.8 4.9 58.9 6.6 59.5 7.4 C60.1 8.2 61.0 8.6 60.6 8.9 C60.2 9.2 58.0 9.1 57.0 9.0 C56.0 8.9 55.2 8.7 54.6 8.4 C54.0 8.1 53.4 8.0 53.4 7.2Z" fill="#5aaaa6"/>
<path d="M72.8 20.7 C72.8 21.1 72.6 21.4 72.2 21.8 C71.9 22.1 71.3 22.4 70.6 22.7 C69.9 22.9 69.0 23.2 68.1 23.3 C67.2 23.4 66.2 23.5 65.2 23.5 C64.2 23.5 63.2 23.4 62.3 23.3 C61.4 23.2 60.5 22.9 59.8 22.7 C59.1 22.4 58.5 22.1 58.2 21.8 C57.8 21.4 57.6 21.1 57.6 20.7 C57.6 20.3 57.8 20.0 58.2 19.6 C58.5 19.3 59.1 19.0 59.8 18.7 C60.5 18.5 61.4 18.2 62.3 18.1 C63.2 18.0 64.2 17.9 65.2 17.9 C66.2 17.9 67.2 18.0 68.1 18.1 C69.0 18.2 69.9 18.5 70.6 18.7 C71.3 19.0 71.9 19.3 72.2 19.6 C72.6 20.0 72.8 20.3 72.8 20.7Z" fill="#fb0d0d"/>
<path d="M72.8 36.9 C72.9 37.4 72.8 38.0 72.5 38.6 C72.2 39.1 71.7 39.7 71.1 40.1 C70.5 40.6 69.7 41.0 68.9 41.3 C68.2 41.5 67.2 41.7 66.3 41.8 C65.5 41.9 64.5 41.9 63.7 41.7 C62.9 41.6 62.0 41.3 61.4 41.0 C60.7 40.6 60.1 40.2 59.8 39.7 C59.4 39.2 59.1 38.6 59.1 38.1 C59.0 37.5 59.2 36.9 59.5 36.4 C59.8 35.8 60.2 35.3 60.8 34.8 C61.4 34.4 62.2 34.0 63.0 33.7 C63.8 33.4 64.7 33.2 65.6 33.1 C66.5 33.0 67.4 33.1 68.2 33.2 C69.1 33.4 69.9 33.6 70.6 34.0 C71.2 34.3 71.8 34.8 72.2 35.3 C72.6 35.7 72.8 36.3 72.8 36.9Z" fill="#fdb23a"/>
<path d="M12.7 54.4 C16.3 54.3 13.6 53.3 17.2 53.1 C20.9 52.9 19.4 52.8 23.6 53.8 C27.8 54.9 25.7 54.8 30.0 56.2 C34.2 57.6 32.7 57.7 36.3 58.0 C40.0 58.3 37.8 58.3 40.9 57.1 C43.9 55.9 42.4 56.2 45.4 54.4 C48.4 52.6 46.6 53.0 50.0 51.7 C53.3 50.3 52.1 50.5 55.4 50.2 C58.8 49.9 57.2 49.7 60.0 50.7 C62.7 51.8 62.2 50.7 63.6 53.5 C65.0 56.2 64.4 55.6 64.1 58.9 C63.8 62.3 64.4 61.2 62.7 63.5 C61.0 65.8 62.1 64.8 59.1 65.8 C56.0 66.9 57.5 66.3 53.6 66.6 C49.7 66.8 51.2 66.1 47.2 66.6 C43.3 67.0 44.8 66.6 41.8 68.0 C38.8 69.4 40.6 69.5 38.1 70.7 C35.7 72.0 37.5 71.7 34.5 71.7 C31.5 71.7 32.7 71.5 29.1 70.7 C25.4 70.0 27.2 69.9 23.6 69.5 C20.0 69.0 21.5 69.0 18.1 69.5 C14.8 69.9 16.2 69.4 13.6 70.7 C11.0 72.1 11.8 71.0 10.3 73.5 C8.8 75.9 9.3 74.7 9.1 78.0 C8.8 81.4 9.1 79.7 9.6 83.5 C10.1 87.3 11.2 85.8 10.7 89.5 C10.2 93.1 13.2 96.7 8.1 94.4 C3.1 92.1 -0.9 92.6 -4.6 82.6 C-8.2 72.6 -6.4 74.1 -2.8 64.4 C0.9 54.7 1.2 56.8 6.3 53.5 C11.5 50.1 9.1 54.5 12.7 54.4Z" fill="#fb0d0d"/>
</g></g>
<text x="9.3" y="352.0" font-size="5.3" fill="#111" stroke="#111" stroke-width="0.12">P3 4.5</text>
<clipPath id="cp6"><use href="#ol" transform="scale(1.0000 1.0000)"/></clipPath>
<g transform="translate(149.4 346.2)">
<use href="#ol" transform="scale(1.0000 1.0000)" fill="#fb0d0d"/>
<g clip-path="url(#cp6)">
<path d="M31.4 -8.0 L80.0 -8.0 L80.0 11.4 L75.0 11.4 C73.2 11.7 73.4 11.5 69.6 12.4 C65.8 13.3 67.8 13.1 63.7 14.0 C59.6 14.9 60.9 14.9 57.3 15.2 C53.7 15.5 55.4 15.5 52.8 14.9 C50.2 14.3 51.4 14.7 49.6 13.3 C47.8 11.9 48.8 12.6 47.3 10.6 C45.8 8.6 47.2 8.8 45.1 7.4 C43.0 6.0 43.9 6.6 41.0 6.5 C38.1 6.4 39.3 6.7 36.4 7.0 C33.5 7.3 34.0 6.6 32.3 7.4 C30.6 8.2 31.7 8.7 31.4 9.4Z" fill="#fd7421"/>
<path d="M52.3 8.3 C52.2 7.1 52.8 4.7 53.6 4.0 C54.5 3.3 56.4 3.2 57.4 4.0 C58.4 4.8 58.9 7.7 59.6 8.8 C60.4 9.9 61.0 9.9 61.9 10.4 C62.8 10.9 65.4 11.5 65.2 11.9 C65.0 12.3 62.3 12.6 61.0 12.7 C59.7 12.8 58.4 12.7 57.3 12.4 C56.1 12.1 54.9 11.8 54.1 11.1 C53.3 10.4 52.4 9.5 52.3 8.3Z" fill="#fdb23a"/>
<path d="M59.1 8.6 C59.0 8.9 58.8 9.2 58.6 9.4 C58.4 9.6 58.1 9.8 57.7 9.9 C57.4 10.0 57.0 10.0 56.7 10.0 C56.3 10.0 55.9 9.9 55.5 9.8 C55.2 9.6 54.8 9.4 54.5 9.2 C54.2 9.0 53.9 8.7 53.8 8.4 C53.6 8.1 53.4 7.8 53.4 7.5 C53.3 7.2 53.4 6.8 53.5 6.6 C53.6 6.3 53.8 6.0 54.0 5.8 C54.2 5.6 54.5 5.4 54.9 5.3 C55.2 5.2 55.6 5.2 55.9 5.2 C56.3 5.2 56.7 5.3 57.1 5.4 C57.4 5.6 57.8 5.8 58.1 6.0 C58.4 6.2 58.7 6.5 58.8 6.8 C59.0 7.1 59.2 7.4 59.2 7.7 C59.3 8.0 59.2 8.4 59.1 8.6Z" fill="#fbf44c"/>
<path d="M73.0 36.7 C73.1 37.2 72.9 37.8 72.6 38.4 C72.4 38.9 71.9 39.5 71.3 39.9 C70.7 40.3 69.9 40.8 69.1 41.0 C68.3 41.3 67.4 41.5 66.5 41.6 C65.6 41.7 64.7 41.6 63.9 41.5 C63.0 41.4 62.2 41.1 61.5 40.8 C60.9 40.4 60.3 40.0 59.9 39.5 C59.6 39.0 59.3 38.4 59.3 37.9 C59.2 37.3 59.3 36.7 59.6 36.1 C59.9 35.6 60.4 35.1 61.0 34.6 C61.6 34.2 62.4 33.8 63.2 33.5 C64.0 33.2 64.9 33.0 65.8 32.9 C66.6 32.8 67.6 32.9 68.4 33.0 C69.3 33.1 70.1 33.4 70.7 33.8 C71.4 34.1 72.0 34.6 72.4 35.0 C72.7 35.5 73.0 36.1 73.0 36.7Z" fill="#fd7421"/>
</g></g>
<text x="125.2" y="352.0" font-size="5.3" fill="#111" stroke="#111" stroke-width="0.12">P3 8.5</text>
<g id="scalebar">
<rect x="154" y="108" width="70" height="3.2" fill="#000"/>
<rect x="172" y="108.7" width="17" height="1.8" fill="#fff"/>
<text x="154.4" y="105.1" font-size="5.7" text-anchor="middle" fill="#111" stroke="#111" stroke-width="0.15">0</text>
<text x="171.4" y="105.1" font-size="5.7" text-anchor="middle" fill="#111" stroke="#111" stroke-width="0.15">50</text>
<text x="189.0" y="105.1" font-size="5.7" text-anchor="middle" fill="#111" stroke="#111" stroke-width="0.15">100</text>
<text x="224.0" y="105.1" font-size="5.7" text-anchor="middle" fill="#111" stroke="#111" stroke-width="0.15">200</text>
<text x="226.8" y="110.8" font-size="6" fill="#111" stroke="#111" stroke-width="0.15">km</text>
<text x="193" y="76.1" font-size="5" font-weight="bold" text-anchor="middle" fill="#111">N</text>
<path d="M193 78.4 L197 89.6 L193 85.6 L189.6 89.6 Z" fill="#fff" stroke="#111" stroke-width="0.6"/>
<path d="M193 78.4 L197 89.6 L193 85.6 Z" fill="#111"/>
</g>
<text x="338.2" y="54.2" font-size="10" textLength="39.8" lengthAdjust="spacingAndGlyphs" fill="#111" stroke="#111" stroke-width="0.35">GDD (<tspan font-size="5.4" dy="-3.4">o</tspan><tspan dy="3.4">C)</tspan></text>
<rect x="326.5" y="60.6" width="15.2" height="6.8" fill="#5aaaa6"/>
<text x="343.3" y="66.4" font-size="6.7" font-weight="bold" textLength="70.5" lengthAdjust="spacingAndGlyphs" fill="#111" xml:space="preserve">850 – 1389  Region I</text>
<rect x="326.5" y="71.5" width="15.2" height="6.8" fill="#b3d08a"/>
<text x="343.3" y="77.3" font-size="6.7" font-weight="bold" textLength="78.2" lengthAdjust="spacingAndGlyphs" fill="#111" xml:space="preserve">1389 – 1667  Region II</text>
<rect x="326.5" y="82.4" width="15.2" height="6.8" fill="#fbf44c"/>
<text x="343.3" y="88.2" font-size="6.7" font-weight="bold" textLength="81.0" lengthAdjust="spacingAndGlyphs" fill="#111" xml:space="preserve">1667 – 1944  Region III</text>
<rect x="326.5" y="93.6" width="15.2" height="6.8" fill="#fdb23a"/>
<text x="343.3" y="99.4" font-size="6.7" font-weight="bold" textLength="81.4" lengthAdjust="spacingAndGlyphs" fill="#111" xml:space="preserve">1944 – 2222  Region IV</text>
<rect x="326.5" y="104.2" width="15.2" height="6.8" fill="#fd7421"/>
<text x="343.3" y="110.0" font-size="6.7" font-weight="bold" textLength="79.3" lengthAdjust="spacingAndGlyphs" fill="#111" xml:space="preserve">2222 – 2700  Region V</text>
<rect x="326.5" y="114.8" width="15.2" height="6.8" fill="#fb0d0d"/>
<text x="345.7" y="120.6" font-size="6.7" font-weight="bold" textLength="53.3" lengthAdjust="spacingAndGlyphs" fill="#111" xml:space="preserve">&gt; 2700  Too hot</text>
<g id="donut" stroke="#fff" stroke-width="1.8" stroke-linejoin="round">
<path d="M402.65 363.63 A48.43 48.43 0 0 1 390.77 362.15 L394.58 347.09 A32.90 32.90 0 0 0 402.65 348.10 Z" fill="#5aaaa6"/>
<path d="M390.77 362.15 A48.43 48.43 0 0 1 370.75 351.64 L380.98 339.95 A32.90 32.90 0 0 0 394.58 347.09 Z" fill="#b3d08a"/>
<path d="M370.75 351.64 A48.43 48.43 0 0 1 404.76 266.82 L404.09 282.33 A32.90 32.90 0 0 0 380.98 339.95 Z" fill="#fbf44c"/>
<path d="M404.76 266.82 A48.43 48.43 0 0 1 413.79 362.33 L410.22 347.22 A32.90 32.90 0 0 0 404.09 282.33 Z" fill="#fdb23a"/>
<path d="M413.79 362.33 A48.43 48.43 0 0 1 402.65 363.63 L402.65 348.10 A32.90 32.90 0 0 0 410.22 347.22 Z" fill="#fd7421"/>
<path d="M402.65 379.16 A63.96 63.96 0 0 1 394.97 378.69 L396.83 363.28 A48.43 48.43 0 0 0 402.65 363.63 Z" fill="#5aaaa6"/>
<path d="M394.97 378.69 A63.96 63.96 0 0 1 384.49 376.52 L388.90 361.63 A48.43 48.43 0 0 0 396.83 363.28 Z" fill="#b3d08a"/>
<path d="M384.49 376.52 A63.96 63.96 0 0 1 349.32 350.50 L362.27 341.93 A48.43 48.43 0 0 0 388.90 361.63 Z" fill="#fbf44c"/>
<path d="M349.32 350.50 A63.96 63.96 0 1 1 466.06 323.55 L450.66 321.52 A48.43 48.43 0 1 0 362.27 341.93 Z" fill="#fdb23a"/>
<path d="M466.06 323.55 A63.96 63.96 0 0 1 402.65 379.16 L402.65 363.63 A48.43 48.43 0 0 0 450.66 321.52 Z" fill="#fd7421"/>
<path d="M402.65 394.69 A79.49 79.49 0 0 1 394.27 394.24 L395.91 378.80 A63.96 63.96 0 0 0 402.65 379.16 Z" fill="#5aaaa6"/>
<path d="M394.27 394.24 A79.49 79.49 0 0 1 382.48 392.08 L386.42 377.06 A63.96 63.96 0 0 0 395.91 378.80 Z" fill="#b3d08a"/>
<path d="M382.48 392.08 A79.49 79.49 0 0 1 343.21 367.97 L354.82 357.66 A63.96 63.96 0 0 0 386.42 377.06 Z" fill="#fbf44c"/>
<path d="M343.21 367.97 A79.49 79.49 0 0 1 461.25 261.50 L449.80 271.99 A63.96 63.96 0 0 0 354.82 357.66 Z" fill="#fdb23a"/>
<path d="M461.25 261.50 A79.49 79.49 0 0 1 402.65 394.69 L402.65 379.16 A63.96 63.96 0 0 0 449.80 271.99 Z" fill="#fd7421"/>
<path d="M402.65 410.21 A95.01 95.01 0 0 1 396.85 410.04 L397.80 394.54 A79.49 79.49 0 0 0 402.65 394.69 Z" fill="#5aaaa6"/>
<path d="M396.85 410.04 A95.01 95.01 0 0 1 390.08 409.38 L392.14 393.99 A79.49 79.49 0 0 0 397.80 394.54 Z" fill="#b3d08a"/>
<path d="M390.08 409.38 A95.01 95.01 0 0 1 373.60 405.67 L378.35 390.88 A79.49 79.49 0 0 0 392.14 393.99 Z" fill="#fbf44c"/>
<path d="M373.60 405.67 A95.01 95.01 0 0 1 320.95 363.71 L334.30 355.78 A79.49 79.49 0 0 0 378.35 390.88 Z" fill="#fdb23a"/>
<path d="M320.95 363.71 A95.01 95.01 0 1 1 414.39 409.49 L412.47 394.08 A79.49 79.49 0 1 0 334.30 355.78 Z" fill="#fd7421"/>
<path d="M414.39 409.49 A95.01 95.01 0 0 1 402.65 410.21 L402.65 394.69 A79.49 79.49 0 0 0 412.47 394.08 Z" fill="#fb0d0d"/>
<path d="M402.65 425.74 A110.54 110.54 0 0 1 395.32 425.50 L396.35 410.01 A95.01 95.01 0 0 0 402.65 410.21 Z" fill="#b3d08a"/>
<path d="M395.32 425.50 A110.54 110.54 0 0 1 384.41 424.23 L386.97 408.91 A95.01 95.01 0 0 0 396.35 410.01 Z" fill="#fbf44c"/>
<path d="M384.41 424.23 A110.54 110.54 0 0 1 351.95 413.43 L359.07 399.63 A95.01 95.01 0 0 0 386.97 408.91 Z" fill="#fdb23a"/>
<path d="M351.95 413.43 A110.54 110.54 0 1 1 498.67 369.97 L485.18 362.28 A95.01 95.01 0 1 0 359.07 399.63 Z" fill="#fd7421"/>
<path d="M498.67 369.97 A110.54 110.54 0 0 1 402.65 425.74 L402.65 410.21 A95.01 95.01 0 0 0 485.18 362.28 Z" fill="#fb0d0d"/>
<path d="M402.65 441.27 A126.07 126.07 0 0 1 398.25 441.19 L398.79 425.68 A110.54 110.54 0 0 0 402.65 425.74 Z" fill="#5aaaa6"/>
<path d="M398.25 441.19 A126.07 126.07 0 0 1 389.47 440.58 L391.10 425.14 A110.54 110.54 0 0 0 398.79 425.68 Z" fill="#b3d08a"/>
<path d="M389.47 440.58 A126.07 126.07 0 0 1 374.08 437.99 L377.60 422.87 A110.54 110.54 0 0 0 391.10 425.14 Z" fill="#fbf44c"/>
<path d="M374.08 437.99 A126.07 126.07 0 0 1 330.70 418.72 L339.56 405.97 A110.54 110.54 0 0 0 377.60 422.87 Z" fill="#fdb23a"/>
<path d="M330.70 418.72 A126.07 126.07 0 1 1 493.34 402.78 L482.17 391.99 A110.54 110.54 0 1 0 339.56 405.97 Z" fill="#fd7421"/>
<path d="M493.34 402.78 A126.07 126.07 0 0 1 402.65 441.27 L402.65 425.74 A110.54 110.54 0 0 0 482.17 391.99 Z" fill="#fb0d0d"/>
<path d="M402.65 456.80 A141.60 141.60 0 0 1 391.29 456.34 L392.54 440.87 A126.07 126.07 0 0 0 402.65 441.27 Z" fill="#fbf44c"/>
<path d="M391.29 456.34 A141.60 141.60 0 0 1 382.94 455.42 L385.10 440.04 A126.07 126.07 0 0 0 392.54 440.87 Z" fill="#fdb23a"/>
<path d="M382.94 455.42 A141.60 141.60 0 0 1 322.65 432.04 L331.42 419.22 A126.07 126.07 0 0 0 385.10 440.04 Z" fill="#fd7421"/>
<path d="M322.65 432.04 A141.60 141.60 0 1 1 402.65 456.80 L402.65 441.27 A126.07 126.07 0 1 0 331.42 419.22 Z" fill="#fb0d0d"/>
</g>
<path d="M402.4 335 L402.4 398" stroke="#5b9bb5" stroke-width="0.7" fill="none"/>
<text x="401.3" y="275.4" font-size="7" font-weight="bold" text-anchor="middle" textLength="8" lengthAdjust="spacingAndGlyphs" fill="#111">P0</text>
<text x="400.3" y="260.0" font-size="7" font-weight="bold" text-anchor="middle" textLength="20.1" lengthAdjust="spacingAndGlyphs" fill="#111">P1_45</text>
<text x="400.3" y="246.8" font-size="7" font-weight="bold" text-anchor="middle" textLength="20.1" lengthAdjust="spacingAndGlyphs" fill="#111">P1_85</text>
<text x="399.5" y="229.0" font-size="7" font-weight="bold" text-anchor="middle" textLength="20.1" lengthAdjust="spacingAndGlyphs" fill="#111">P2_45</text>
<text x="400.5" y="215.4" font-size="7" font-weight="bold" text-anchor="middle" textLength="20.1" lengthAdjust="spacingAndGlyphs" fill="#111">P2_85</text>
<text x="400.9" y="197.5" font-size="7" font-weight="bold" text-anchor="middle" textLength="20.1" lengthAdjust="spacingAndGlyphs" fill="#111">P3_45</text>
<text x="399.9" y="183.7" font-size="7" font-weight="bold" text-anchor="middle" textLength="20.1" lengthAdjust="spacingAndGlyphs" fill="#111">P3_85</text>
<text x="349.8" y="211.0" font-size="6.3" text-anchor="middle" fill="#2a2a2a" stroke="#2a2a2a" stroke-width="0.1">77</text>
<text x="372.8" y="218.5" font-size="6.3" text-anchor="middle" fill="#2a2a2a" stroke="#2a2a2a" stroke-width="0.1">75</text>
<text x="353.0" y="264.4" font-size="6.3" text-anchor="middle" fill="#2a2a2a" stroke="#2a2a2a" stroke-width="0.1">50</text>
<text x="363.7" y="302.6" font-size="6.3" text-anchor="middle" fill="#2a2a2a" stroke="#2a2a2a" stroke-width="0.1">39</text>
<text x="443.1" y="190.0" font-size="6.3" text-anchor="middle" fill="#2a2a2a" stroke="#2a2a2a" stroke-width="0.1">90</text>
<text x="440.5" y="238.6" font-size="6.3" text-anchor="middle" fill="#2a2a2a" stroke="#2a2a2a" stroke-width="0.1">82</text>
<text x="438.9" y="274.2" font-size="6.3" text-anchor="middle" fill="#2a2a2a" stroke="#2a2a2a" stroke-width="0.1">61</text>
<text x="443.7" y="313.8" font-size="6.3" text-anchor="middle" fill="#2a2a2a" stroke="#2a2a2a" stroke-width="0.1">46</text>
<text x="383.1" y="354.7" font-size="6.3" text-anchor="middle" fill="#2a2a2a" stroke="#2a2a2a" stroke-width="0.1">7</text>
<text x="395.4" y="358.2" font-size="6.3" text-anchor="middle" fill="#2a2a2a" stroke="#2a2a2a" stroke-width="0.1">3</text>
<text x="405.3" y="358.2" font-size="6.3" text-anchor="middle" fill="#2a2a2a" stroke="#2a2a2a" stroke-width="0.1">3</text>
<text x="367.9" y="363.7" font-size="6.3" text-anchor="middle" fill="#2a2a2a" stroke="#2a2a2a" stroke-width="0.1">11</text>
<text x="389.6" y="374.4" font-size="6.3" text-anchor="middle" fill="#2a2a2a" stroke="#2a2a2a" stroke-width="0.1">3</text>
<text x="398.7" y="373.5" font-size="6.3" text-anchor="middle" fill="#2a2a2a" stroke="#2a2a2a" stroke-width="0.1">2</text>
<text x="364.7" y="379.9" font-size="6.3" text-anchor="middle" fill="#2a2a2a" stroke="#2a2a2a" stroke-width="0.1">9</text>
<text x="389.0" y="388.0" font-size="6.3" text-anchor="middle" fill="#2a2a2a" stroke="#2a2a2a" stroke-width="0.1">2</text>
<text x="398.7" y="389.0" font-size="6.3" text-anchor="middle" fill="#2a2a2a" stroke="#2a2a2a" stroke-width="0.1">2</text>
<text x="347.5" y="386.4" font-size="6.3" text-anchor="middle" fill="#2a2a2a" stroke="#2a2a2a" stroke-width="0.1">11</text>
<text x="383.8" y="401.9" font-size="6.3" text-anchor="middle" fill="#2a2a2a" stroke="#2a2a2a" stroke-width="0.1">3</text>
<text x="392.2" y="406.8" font-size="6.3" text-anchor="middle" fill="#2a2a2a" stroke="#2a2a2a" stroke-width="0.1">1</text>
<text x="400.9" y="405.8" font-size="6.3" text-anchor="middle" fill="#2a2a2a" stroke="#2a2a2a" stroke-width="0.1">1</text>
<text x="408.8" y="406.4" font-size="6.3" text-anchor="middle" fill="#2a2a2a" stroke="#2a2a2a" stroke-width="0.1">2</text>
<text x="370.2" y="414.9" font-size="6.3" text-anchor="middle" fill="#2a2a2a" stroke="#2a2a2a" stroke-width="0.1">5</text>
<text x="391.2" y="419.4" font-size="6.3" text-anchor="middle" fill="#2a2a2a" stroke="#2a2a2a" stroke-width="0.1">2</text>
<text x="400.0" y="423.0" font-size="6.3" text-anchor="middle" fill="#2a2a2a" stroke="#2a2a2a" stroke-width="0.1">1</text>
<text x="353.0" y="426.9" font-size="6.3" text-anchor="middle" fill="#2a2a2a" stroke="#2a2a2a" stroke-width="0.1">6</text>
<text x="384.1" y="434.3" font-size="6.3" text-anchor="middle" fill="#2a2a2a" stroke="#2a2a2a" stroke-width="0.1">2</text>
<text x="392.8" y="436.6" font-size="6.3" text-anchor="middle" fill="#2a2a2a" stroke="#2a2a2a" stroke-width="0.1">1</text>
<text x="401.2" y="437.5" font-size="6.3" text-anchor="middle" fill="#2a2a2a" stroke="#2a2a2a" stroke-width="0.1">1</text>
<text x="351.7" y="442.1" font-size="6.3" text-anchor="middle" fill="#2a2a2a" stroke="#2a2a2a" stroke-width="0.1">8</text>
<text x="388.0" y="451.1" font-size="6.3" text-anchor="middle" fill="#2a2a2a" stroke="#2a2a2a" stroke-width="0.1">1</text>
<text x="399.3" y="452.1" font-size="6.3" text-anchor="middle" fill="#2a2a2a" stroke="#2a2a2a" stroke-width="0.1">1</text>
<text x="468.7" y="346.9" font-size="6.3" text-anchor="middle" fill="#2a2a2a" stroke="#2a2a2a" stroke-width="0.1">37</text>
<text x="439.8" y="361.5" font-size="6.3" text-anchor="middle" fill="#2a2a2a" stroke="#2a2a2a" stroke-width="0.1">23</text>
<text x="454.4" y="407.5" font-size="6.3" text-anchor="middle" fill="#2a2a2a" stroke="#2a2a2a" stroke-width="0.1">17</text>
<text x="448.6" y="427.6" font-size="6.3" text-anchor="middle" fill="#2a2a2a" stroke="#2a2a2a" stroke-width="0.1">13</text>
<text x="401.9" y="333.4" font-size="4.6" text-anchor="middle" fill="#333">1</text>
</g>
</svg></body></html>
